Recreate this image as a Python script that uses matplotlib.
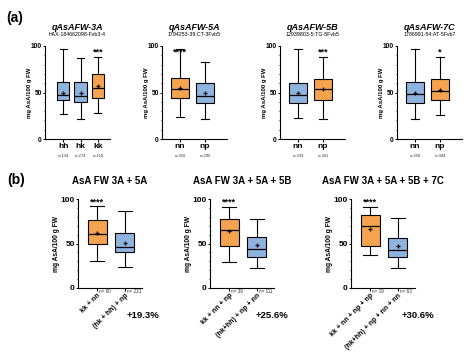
import matplotlib
matplotlib.use("Agg")
import matplotlib.pyplot as plt
from matplotlib.ticker import MultipleLocator

plt.rcParams['font.family'] = ['Liberation Sans', 'DejaVu Sans']

ORANGE = '#F5A34F'
BLUE = '#8FB3DF'
COLORS = {'o': ORANGE, 'b': BLUE}

# --- 1. PANEL (a) DATA: single QTL ---
a_titles = ["qAsAFW-3A", "qAsAFW-5A", "qAsAFW-5B", "qAsAFW-7C"]
a_markers = ["HAX-184662098-Fvb3-4", "1794253-39:CT-3Fvb5",
             "12939803-5:TG-5Fvb5", "1786991-54:AT-5Fvb7"]
a_groups = [["hh", "hk", "kk"], ["nn", "np"], ["nn", "np"], ["nn", "np"]]
a_counts = [[134, 274, 118], [350, 290], [339, 301], [250, 384]]
a_whislo = [[27, 22, 28], [24, 22], [23, 22], [22, 26]]
a_q1 = [[42, 40, 44], [44, 39], [39, 42], [39, 42]]
a_med = [[47, 46, 55], [54, 46], [47, 54], [48, 52]]
a_q3 = [[61, 61, 70], [66, 60], [60, 65], [61, 64]]
a_whishi = [[97, 87, 88], [97, 83], [97, 88], [97, 88]]
a_mean = [[50, 49, 57], [55, 49], [49, 54], [49, 53]]
a_colors = [['b', 'b', 'o'], ['o', 'b'], ['b', 'o'], ['b', 'o']]
a_stars = ["***", "****", "***", "*"]
a_star_box = [3, 1, 2, 2]

# --- 2. PANEL (b) DATA: stacked QTL ---
b_titles = ["AsA FW 3A + 5A", "AsA FW 3A + 5A + 5B", "AsA FW 3A + 5A + 5B + 7C"]
b_groups = [["kk + nn", "(hk + hh) + np"],
            ["kk + nn + np", "(hk+hh) + np + nn"],
            ["kk + nn + np + np", "(hk+hh) + np + nn + nn"]]
b_counts = [[60, 221], [39, 111], [19, 63]]
b_whislo = [[30, 24], [29, 22], [37, 22]]
b_q1 = [[49, 40], [47, 35], [47, 35]]
b_med = [[61, 46], [65, 44], [70, 43]]
b_q3 = [[76, 62], [78, 57], [82, 56]]
b_whishi = [[92, 87], [91, 78], [91, 79]]
b_mean = [[62, 51], [64, 48], [66, 47]]
b_colors = [['o', 'b'], ['o', 'b'], ['o', 'b']]
b_stars = ["****", "****", "****"]
b_gain = ["+19.3%", "+25.6%", "+30.6%"]


def draw_boxes(ax, whislo, q1, med, q3, whishi, mean, colors, width, capw, ysize, ylab_x, ylab_size):
    stats = []
    for i in range(len(med)):
        stats.append(dict(whislo=whislo[i], q1=q1[i], med=med[i], q3=q3[i],
                          whishi=whishi[i], mean=mean[i], fliers=[]))
    pos = list(range(1, len(med) + 1))
    bp = ax.bxp(stats, positions=pos, widths=width, capwidths=capw,
                patch_artist=True, showmeans=True, showfliers=False,
                boxprops=dict(edgecolor='black', linewidth=0.8),
                medianprops=dict(color='black', linewidth=0.9),
                whiskerprops=dict(color='black', linewidth=0.8),
                capprops=dict(color='black', linewidth=0.8),
                meanprops=dict(marker='+', markeredgecolor='black',
                               markersize=3.5, markeredgewidth=0.9))
    for patch, c in zip(bp['boxes'], colors):
        patch.set_facecolor(COLORS[c])
    ax.set_ylim(0, 100)
    ax.yaxis.set_major_locator(MultipleLocator(50))
    ax.yaxis.set_minor_locator(MultipleLocator(10))
    for s in ['top', 'right']:
        ax.spines[s].set_visible(False)
    for s in ['left', 'bottom']:
        ax.spines[s].set_linewidth(0.8)
    ax.tick_params(axis='y', which='major', length=1.8, width=0.7, pad=0.5, labelsize=ysize)
    ax.tick_params(axis='y', which='minor', length=1.0, width=0.6)
    ax.tick_params(axis='x', length=1.8, width=0.7, pad=1)
    for lab in ax.get_yticklabels():
        lab.set_fontweight('bold')
    ax.set_ylabel("mg AsA/100 g FW", fontsize=ylab_size, fontweight='bold')
    ax.yaxis.set_label_coords(ylab_x, 0.5)
    return pos


fig = plt.figure(figsize=(4.74, 3.54), dpi=100)
W, H = 474.0, 354.0

# --- 3. PANEL (a) ---
a_left = [45, 162, 280, 397]
a_width = [65, 65, 65, 65]
for k in range(4):
    ax = fig.add_axes([a_left[k] / W, 1 - 139 / H, a_width[k] / W, 93 / H])
    n = len(a_groups[k])
    pos = draw_boxes(ax, a_whislo[k], a_q1[k], a_med[k], a_q3[k], a_whishi[k],
                     a_mean[k], a_colors[k],
                     0.7 if n == 3 else 0.75, 0.4 if n == 3 else 0.35,
                     4.8, -0.2, 4.3)
    if n == 3:
        ax.set_xlim(-0.05, 3.7)
    else:
        ax.set_xlim(0.28, 2.88)
    ax.set_xticks(pos)
    ax.set_xticklabels(a_groups[k], fontsize=6, fontweight='bold')
    for p, c in zip(pos, a_counts[k]):
        ax.annotate("n=%d" % c, xy=(p, 0), xycoords=('data', 'axes fraction'),
                    xytext=(0, -10.5), textcoords='offset points',
                    ha='center', va='top', fontsize=2.9, color='#333333')
    ax.text(a_star_box[k], 94, a_stars[k], ha='center', va='center',
            fontsize=6.5, fontweight='bold')
    ax.text(0.5, 1.204, a_titles[k], transform=ax.transAxes, ha='center', va='center',
            fontsize=6.5, fontweight='bold', fontstyle='italic')
    ax.text(0.5, 1.125, a_markers[k], transform=ax.transAxes, ha='center', va='center',
            fontsize=3.8)

# --- 4. PANEL (b) ---
b_left = [78, 210, 351]
b_gain_x = [143, 272, 418]
for k in range(3):
    ax = fig.add_axes([b_left[k] / W, 1 - 288 / H, 64 / W, 89 / H])
    pos = draw_boxes(ax, b_whislo[k], b_q1[k], b_med[k], b_q3[k], b_whishi[k],
                     b_mean[k], b_colors[k], 0.68, 0.5, 6, -0.28, 4.8)
    ax.set_xlim(0.32, 2.61)
    ax.set_xticks(pos)
    ax.set_xticklabels(b_groups[k], fontsize=5, fontweight='bold', rotation=45,
                       ha='right', va='top', rotation_mode='anchor')
    for p, c in zip(pos, b_counts[k]):
        ax.annotate("n= %d" % c, xy=(p, 0), xycoords=('data', 'axes fraction'),
                    xytext=(1.5, -1), textcoords='offset points',
                    ha='left', va='top', fontsize=3.3, color='#333333')
    ax.text(1, 97, b_stars[k], ha='center', va='center', fontsize=6.5, fontweight='bold')
    ax.text(0.5, 1.20, b_titles[k], transform=ax.transAxes, ha='center', va='center',
            fontsize=7, fontweight='bold')
    fig.text(b_gain_x[k] / W, 1 - 315 / H, b_gain[k], ha='center', va='center',
             fontsize=6.8, fontweight='bold')

# panel letters
fig.text(15 / W, 1 - 18 / H, "(a)", ha='center', va='center', fontsize=10, fontweight='bold')
fig.text(16 / W, 1 - 180 / H, "(b)", ha='center', va='center', fontsize=10, fontweight='bold')

plt.savefig("out.png", dpi=100, facecolor='white')
plt.close()
